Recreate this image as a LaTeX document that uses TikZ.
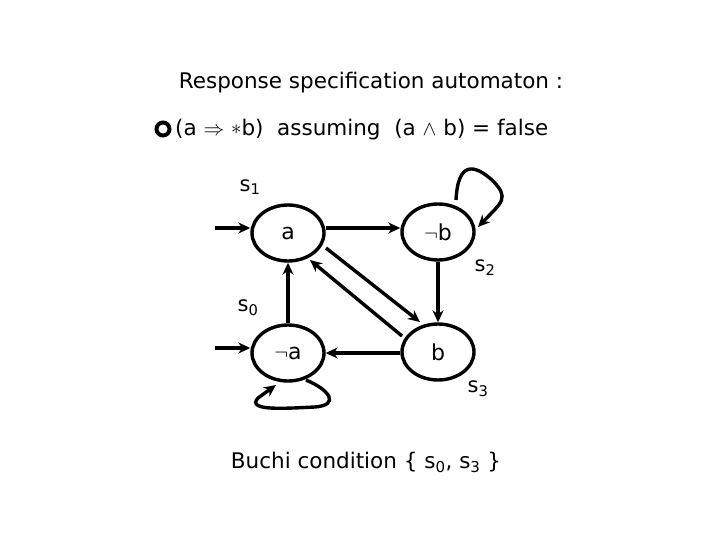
\documentclass[tikz,border=0pt]{standalone}
\usepackage{fontspec}
\setmainfont{DejaVu Sans}
\usetikzlibrary{arrows.meta,shapes.geometric}
\begin{document}
\begin{tikzpicture}[x=1pt,y=-1pt,
  st/.style={draw,line width=3.4pt,ellipse,minimum width=72pt,minimum height=56pt,font=\fontsize{22}{26}\selectfont},
  ar/.style={line width=3.4pt,-{Stealth[length=12pt,width=11pt]}},
  lab/.style={font=\fontsize{21}{24}\selectfont},
  txt/.style={font=\fontsize{21.5}{26}\selectfont}]
\useasboundingbox (0,0) rectangle (720,540);
\node[txt] (t1) at (371,83) {Response specification automaton :};
\node[txt,anchor=west,inner sep=0pt] (t2) at (175,130) {(a $\Rightarrow$ \raisebox{1pt}{$\ast$}b)\ \ assuming\ \ (a $\wedge$ b) = false};
\node[circle,draw,line width=4pt,minimum size=13pt,inner sep=0pt] (box) at (163,129) {};
\node[st] (a) at (288,233) {a};
\node[st] (nb) at (438,232) {$\neg$b};
\node[st] (b) at (438,352) {b};
\node[st] (na) at (288,353) {$\neg$a};
\node[lab] (l1) at (250,187) {s\textsubscript{1}};
\node[lab] (l2) at (485,268) {s\textsubscript{2}};
\node[lab] (l0) at (248,308) {s\textsubscript{0}};
\node[lab] (l3) at (478,389) {s\textsubscript{3}};
\node[txt] (bc) at (366,462) {Buchi condition \{ s\textsubscript{0}, s\textsubscript{3} \}};
\coordinate (i1) at (215,228);
\coordinate (i0) at (215,348);
\draw[ar] (i1) -- (a.west|-i1);
\draw[ar] (i0) -- (na.west|-i0);
\draw[ar] (a.east|-i1) -- (nb.west|-i1);
\draw[ar] (nb) -- (b);
\draw[ar] (b.west|-na) -- (na.east);
\draw[ar] (na) -- (a);
\draw[ar] (326,248) -- (420,322);
\draw[ar] (402,336) -- (310,260);
\draw[ar] (456,200) .. controls (458,160) and (475,165) .. (492,180) .. controls (510,198) and (502,202) .. (478,227);
\draw[ar] (306,380) .. controls (330,390) and (340,405) .. (315,407) .. controls (290,408) and (245,412) .. (258,398) -- (276,385);
\end{tikzpicture}
\end{document}
